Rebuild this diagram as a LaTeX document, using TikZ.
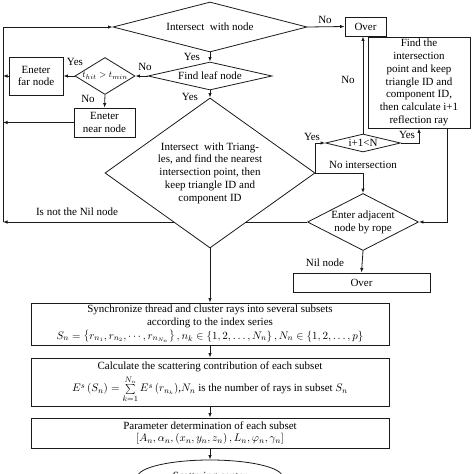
\documentclass[tikz,border=0pt]{standalone}
\usepackage{fontspec}
\setmainfont{Liberation Serif}
\usetikzlibrary{arrows.meta,shapes.geometric,backgrounds}
\definecolor{flowline}{HTML}{1A1A1A}

\begin{document}
\begin{tikzpicture}[x=1pt,y=-1pt,>={Latex[length=4.5pt,width=3.4pt]},
    font=\fontsize{11}{12.8}\selectfont,
    box/.style={draw=flowline,line width=0.8pt,fill=white,inner sep=1pt,align=center},
    decide/.style={diamond,draw=flowline,line width=0.8pt,fill=white,inner sep=0pt},
    flow/.style={->,draw=flowline,line width=0.8pt},
    link/.style={draw=flowline,line width=0.8pt},
    tag/.style={inner sep=0pt}]
  \useasboundingbox (0,0) rectangle (474,474);
  \clip (0,0) rectangle (474,474);
  \def\loopx{3}

  % Traversal of the tree: node test, leaf test and the near/far choice.
  \node[decide,minimum width=194pt,minimum height=50pt,
    label={center:Intersect\enspace with node}] (top) at (210,27) {};
  \node[box,minimum width=41pt,minimum height=19pt] (over) at (365.5,26.5) {Over};
  \node[decide,minimum width=124pt,minimum height=28pt,
    label={center:Find leaf node}] (leaf) at (210,76) {};
  \node[decide,minimum width=60pt,minimum height=37pt,
    label={[font=\fontsize{9.5}{11}\selectfont]center:$t_{hit}>t_{min}$}] (thit) at (105,76) {};
  \node[box,minimum width=54pt,minimum height=38pt] (far) at (36,76)
    {Eneter\\far node};
  \node[box,minimum width=61pt,minimum height=29pt] (near) at (104.5,122.5)
    {Eneter\\near node};

  % Triangle test inside the leaf, and the reflection branch.
  \node[decide,minimum width=210pt,minimum height=150pt,
    label={[align=center]center:Intersect\enspace with Triang-\\les, and find the nearest\\intersection point, then\\keep triangle ID and\\component ID}]
    (tri) at (210,173) {};
  \node[box,minimum width=102pt,minimum height=91pt] (find) at (419,82.5)
    {Find the\\intersection\\point and keep\\triangle ID and\\component ID,\\then calculate i+1\\reflection ray};
  \node[decide,minimum width=75pt,minimum height=18pt,
    label={center:i+1<N}] (cmp) at (363,143) {};
  \node[decide,minimum width=111pt,minimum height=57pt,
    label={[align=center]center:Enter adjacent\\node by rope}] (adj) at (363,222) {};
  \node[box,minimum width=137pt,minimum height=19pt] (over2) at (361.5,282.5) {Over};

  % Post processing of the collected rays.
  \node[box,minimum width=358pt,minimum height=42pt] (sync) at (210,324)
    {Synchronize thread and cluster rays into several subsets\\according to the index series\\[1pt]
     $S_n=\left\{r_{n_1},r_{n_2},\cdots,r_{n_{N_n}}\right\},n_k\in\left\{1,2,\dots,N_n\right\},N_n\in\left\{1,2,\dots,p\right\}$};
  \node[box,minimum width=358pt,minimum height=48pt] (calc) at (210,382)
    {Calculate the scattering contribution of each subset\\[3pt]
     $E^s\left(S_n\right)=\sum\limits_{k=1}^{N_n}E^s\left(r_{n_k}\right)$,$N_n$ is the number of rays in subset $S_n$};
  \node[box,minimum width=358pt,minimum height=30pt] (param) at (210,433)
    {Parameter determination of each subset\\
     $\left[A_n,\alpha_n,\left(x_n,y_n,z_n\right),L_n,\varphi_n,\gamma_n\right]$};
  \node[ellipse,draw=flowline,line width=0.8pt,minimum width=145pt,minimum height=34pt]
    (ell) at (210,477) {Scattering center};

  % Loop back to the node test on the left.
  \coordinate (looptop) at (\loopx,27);
  \coordinate (loopbot) at (\loopx,222);
  \draw[link] (loopbot) -- (looptop);
  \draw[flow] (looptop) -- (top.west);
  \draw[flow] (far.west) -- (far.west -| looptop);
  \draw[flow] (near.west) -- (near.west -| looptop);

  % Connectors.
  \draw[flow] (top.east) -- (over.west);
  \draw[flow] (top.south) -- (leaf.north);
  \draw[flow] (leaf.west) -- (thit.east);
  \draw[flow] (thit.west) -- (far.east);
  \draw[flow] (thit.south) -- (near.north);
  \draw[flow] (leaf.south) -- (tri.north);
  \draw[flow] (tri.east) -- (tri.east |- cmp.west) -- (cmp.west);
  \draw[flow] (cmp.east) -- (cmp.east -| find.south) -- (find.south);
  \draw[flow] (cmp.north) -- (cmp.north |- over.south);
  \draw[flow] (tri.east) -- (tri.east -| adj.north) -- (adj.north);
  \draw[flow] ([xshift=28pt]find.south) |- (adj.east);
  \begin{pgfonlayer}{background}
    \draw[flow] (adj.west) -- (loopbot);
  \end{pgfonlayer}
  \draw[flow] (adj.south) -- (over2.north);
  \draw[flow] (tri.south) -- (sync.north);
  \draw[flow] (sync.south) -- (calc.north);
  \draw[flow] (calc.south) -- (param.north);
  \draw[flow] (param.south) -- (ell.north);

  % Branch labels.
  \node[tag] (lno1) at (325,20) {No};
  \node[tag] (lyes1) at (192,57) {Yes};
  \node[tag] (lno2) at (145,67) {No};
  \node[tag] (lyes2) at (75,62) {Yes};
  \node[tag] (lno3) at (88,99) {No};
  \node[tag] (lyes3) at (190,97) {Yes};
  \node[tag] (lno4) at (348,80) {No};
  \node[tag] (lyes4) at (312,137) {Yes};
  \node[tag] (lyes5) at (407,135) {Yes};
  \node[tag] (lnoint) at (363,165) {No intersection};
  \node[tag] (lnotnil) at (77,212) {Is not the Nil node};
  \node[tag] (lnil) at (325,263) {Nil node};
\end{tikzpicture}
\end{document}
